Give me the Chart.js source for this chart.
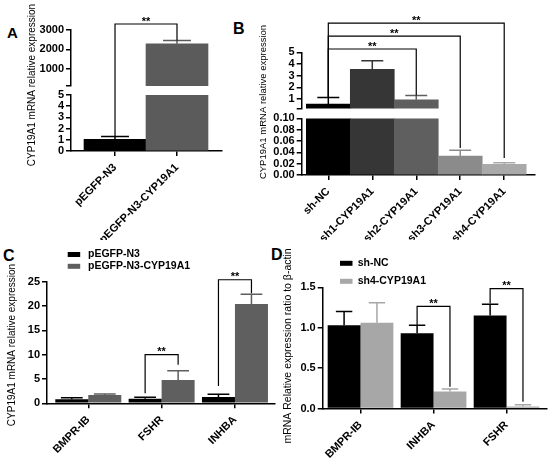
<!DOCTYPE html>
<html>
<head>
<meta charset="utf-8">
<script src="https://cdn.jsdelivr.net/npm/chart.js@4.4.0/dist/chart.umd.min.js"></script>
<style>
  body { margin: 0; background: #fff; width: 550px; height: 460px; position: relative; overflow: hidden; font-family: 'Liberation Sans', Arial, sans-serif; }
  canvas { position: absolute; }
  .lab { position: absolute; font-weight: bold; font-size: 16px; line-height: 18px; color: #000; }
</style>
</head>
<body>
<div class="lab" style="left:7px;top:24px;font-size:15px">A</div>
<div class="lab" style="left:233px;top:20px">B</div>
<div class="lab" style="left:3px;top:247px">C</div>
<div class="lab" style="left:271px;top:246px">D</div>

<canvas id="cC" width="285" height="220" style="left:0;top:240px"></canvas>
<canvas id="cD" width="275" height="220" style="left:275px;top:240px"></canvas>
<canvas id="cA" width="230" height="240" style="left:0;top:0"></canvas>
<canvas id="cB" width="320" height="240" style="left:230px;top:0"></canvas>

<script>
// ---- data ----
// A
const aLabels = ['pEGFP-N3', 'pEGFP-N3-CYP19A1'];
const aValues = [1.05, 2290];
const aErrors = [0.25, 170];
const aTicksLow = [0, 1, 2, 3, 4, 5];
const aTicksHigh = [100, 1000, 2000, 3000];

// B
const bLabels = ['sh-NC', 'sh1-CYP19A1', 'sh2-CYP19A1', 'sh3-CYP19A1', 'sh4-CYP19A1'];
const bValues = [0.57, 3.55, 0.94, 0.0336, 0.0188];
const bErrors = [0.56, 0.73, 0.37, 0.010, 0.003];
const bTicksLow = [0, 0.02, 0.04, 0.06, 0.08, 0.10];
const bTicksHigh = [0.2, 1, 2, 3, 4, 5];

// C
const cLabels = ['BMPR-IB', 'FSHR', 'INHBA'];
const cN3 = [0.82, 0.95, 1.3];
const cN3Err = [0.3, 0.3, 0.55];
const cCyp = [1.7, 4.8, 20.4];
const cCypErr = [0.2, 1.9, 2.0];
const cTicks = [0, 5, 10, 15, 20, 25];

// D
const dLabels = ['BMPR-IB', 'INHBA', 'FSHR'];
const dNC = [1.03, 0.93, 1.15];
const dNCErr = [0.17, 0.10, 0.14];
const dSh4 = [1.06, 0.21, 0.025];
const dSh4Err = [0.25, 0.03, 0.02];
const dTicks = [0, 0.5, 1.0, 1.5];

// ---- look ----
const FONT = "'Liberation Sans', Arial, sans-serif";
const aColors = ['#000000', '#5b5b5b'];
const bColors = ['#000000', '#363636', '#5f5f5f', '#8b8b8b', '#a9a9a9'];
const cColors = ['#000000', '#5f5f5f'];
const dColors = ['#000000', '#a7a7a7'];

Chart.defaults.animation = false;
Chart.defaults.font.family = FONT;

function yPix(chart, v) {
  const hi = chart.scales.yHigh;
  if (hi && v >= hi.min) return hi.getPixelForValue(v);
  return (chart.scales.yLow || chart.scales.y).getPixelForValue(v);
}

const errorBars = {
  id: 'errorBars',
  afterDatasetsDraw(chart) {
    const ctx = chart.ctx;
    chart.data.datasets.forEach((ds, di) => {
      if (!ds.errors) return;
      const meta = chart.getDatasetMeta(di);
      meta.data.forEach((bar, i) => {
        const v = ds.values[i], e = ds.errors[i];
        const col = Array.isArray(ds.backgroundColor) ? ds.backgroundColor[i] : ds.backgroundColor;
        const y0 = yPix(chart, v), y1 = yPix(chart, v + e);
        const half = bar.width * ds.capRatio / 2;
        ctx.save();
        ctx.strokeStyle = col;
        ctx.lineWidth = 1.5;
        ctx.beginPath();
        ctx.moveTo(bar.x, y0); ctx.lineTo(bar.x, y1);
        ctx.moveTo(bar.x - half, y1); ctx.lineTo(bar.x + half, y1);
        ctx.stroke();
        ctx.restore();
      });
    });
  }
};

function bracketPlugin(items) {
  return {
    id: 'brackets',
    afterDatasetsDraw(chart) {
      const ctx = chart.ctx;
      items.forEach(b => {
        const pa = chart.getDatasetMeta(b.a[0]).data[b.a[1]];
        const pb = chart.getDatasetMeta(b.b[0]).data[b.b[1]];
        const yl = yPix(chart, b.level);
        ctx.save();
        ctx.strokeStyle = '#000';
        ctx.lineWidth = 1.2;
        ctx.beginPath();
        ctx.moveTo(pa.x, yPix(chart, b.endA));
        ctx.lineTo(pa.x, yl);
        ctx.lineTo(pb.x, yl);
        ctx.lineTo(pb.x, yPix(chart, b.endB));
        ctx.stroke();
        ctx.fillStyle = '#000';
        ctx.font = 'bold 11px ' + FONT;
        ctx.textAlign = 'center';
        ctx.textBaseline = 'bottom';
        ctx.fillText('**', (pa.x + pb.x) / 2, yl + 3);
        ctx.restore();
      });
    }
  };
}

function sideTitle(text, x, y, size) {
  return {
    id: 'sideTitle',
    afterDraw(chart) {
      const ctx = chart.ctx;
      ctx.save();
      ctx.translate(x, y);
      ctx.rotate(-Math.PI / 2);
      ctx.fillStyle = '#000';
      ctx.font = size + 'px ' + FONT;
      ctx.textAlign = 'center';
      ctx.textBaseline = 'middle';
      ctx.fillText(text, 0, 0);
      ctx.restore();
    }
  };
}

function boxLegend(x, y, dy, textX) {
  return {
    id: 'boxLegend',
    afterDraw(chart) {
      const ctx = chart.ctx;
      ctx.save();
      chart.data.datasets.forEach((ds, i) => {
        const yy = y + i * dy;
        ctx.fillStyle = ds.backgroundColor;
        ctx.fillRect(x, yy - 2.5, 12.5, 5);
        ctx.fillStyle = '#000';
        ctx.font = 'bold 10.5px ' + FONT;
        ctx.textBaseline = 'middle';
        ctx.fillText(ds.label, textX, yy);
      });
      ctx.restore();
    }
  };
}

const axisLine = { color: '#000', width: 1.5 };
const tickMarks = { drawOnChartArea: false, drawTicks: true, tickLength: 5, color: '#000', lineWidth: 1.5, offset: false };
const tickFont = { family: FONT, size: 11, weight: 'bold' };

function yScale(o) {
  return {
    type: 'linear', position: 'left',
    min: o.min, max: o.max,
    stack: o.stack, stackWeight: o.weight || 1,
    border: axisLine, grid: tickMarks,
    ticks: { color: '#000', font: tickFont, padding: 2, autoSkip: false, callback: o.fmt },
    afterBuildTicks: s => { s.ticks = o.ticks.map(v => ({ value: v })); },
    afterFit: s => { s.width = o.width; }
  };
}

function gapScale(stack, weight, width) {
  return {
    type: 'linear', position: 'left', stack: stack, stackWeight: weight,
    border: { display: false }, grid: { display: false }, ticks: { display: false },
    afterFit: s => { s.width = width; }
  };
}

function xScale(labels, min, max, height) {
  return {
    type: 'linear', min: min, max: max, offset: false,
    border: axisLine, grid: tickMarks,
    ticks: {
      color: '#000', font: tickFont, padding: 5, autoSkip: false,
      maxRotation: 45, minRotation: 45,
      callback: v => labels[Math.round(v) - 1]
    },
    afterBuildTicks: s => { s.ticks = labels.map((_, i) => ({ value: i + 1 })); },
    afterFit: s => { s.height = height; }
  };
}

const points = arr => arr.map((v, i) => ({ x: i + 1, y: v }));

function baseOptions(padding, scales) {
  return {
    responsive: false,
    animation: false,
    layout: { padding: padding },
    plugins: { legend: { display: false }, tooltip: { enabled: false } },
    scales: scales
  };
}

// ---- A : broken axis ----
new Chart(document.getElementById('cA'), {
  type: 'bar',
  data: {
    datasets: [
      { yAxisID: 'yHigh', grouped: false, barPercentage: 1, categoryPercentage: 1,
        data: points(aValues.map(v => v >= aTicksHigh[0] ? v : null)),
        backgroundColor: aColors },
      { yAxisID: 'yLow', grouped: false, barPercentage: 1, categoryPercentage: 1,
        data: points(aValues.map(v => Math.min(v, aTicksLow[aTicksLow.length - 1]))),
        backgroundColor: aColors, values: aValues, errors: aErrors, capRatio: 0.45 }
    ]
  },
  options: baseOptions({ left: 35, right: 8, top: 30, bottom: 0 }, {
    x: xScale(aLabels, 0.29, 2.726, 89),
    yLow: yScale({ min: 0, max: 5, ticks: aTicksLow, stack: 'a', weight: 56, width: 36, fmt: v => String(v) }),
    yGap: gapScale('a', 9, 36),
    yHigh: yScale({ min: 100, max: 3000, ticks: aTicksHigh, stack: 'a', weight: 56, width: 36,
      fmt: v => v === aTicksHigh[0] ? '' : String(v) })
  }),
  plugins: [errorBars,
    bracketPlugin([{ a: [1, 0], b: [1, 1], level: 3311, endA: 1.3, endB: 2460 }]),
    sideTitle('CYP19A1 mRNA relative expression', 32, 85, 10)]
});

// ---- B : broken axis ----
new Chart(document.getElementById('cB'), {
  type: 'bar',
  data: {
    datasets: [
      { yAxisID: 'yHigh', grouped: false, barPercentage: 1, categoryPercentage: 1,
        data: points(bValues.map(v => v >= bTicksHigh[0] ? v : null)),
        backgroundColor: bColors },
      { yAxisID: 'yLow', grouped: false, barPercentage: 1, categoryPercentage: 1,
        data: points(bValues.map(v => Math.min(v, bTicksLow[bTicksLow.length - 1]))),
        backgroundColor: bColors, values: bValues, errors: bErrors, capRatio: 0.5 }
    ]
  },
  options: baseOptions({ left: 35.7, right: 15, top: 52.3, bottom: 0 }, {
    x: xScale(bLabels, 0.395, 5.70, 65),
    yLow: yScale({ min: 0, max: 0.10, ticks: bTicksLow, stack: 'b', weight: 56.7, width: 36, fmt: v => v.toFixed(2) }),
    yGap: gapScale('b', 10, 36),
    yHigh: yScale({ min: 0.2, max: 5, ticks: bTicksHigh, stack: 'b', weight: 56.3, width: 36,
      fmt: v => v === bTicksHigh[0] ? '' : String(v) })
  }),
  plugins: [errorBars,
    bracketPlugin([
      { a: [1, 0], b: [1, 2], level: 5.28, endA: 1.13, endB: 1.30 },
      { a: [1, 0], b: [1, 3], level: 6.39, endA: 1.13, endB: 0.0476 },
      { a: [1, 0], b: [1, 4], level: 7.5, endA: 1.13, endB: 0.030 }
    ]),
    sideTitle('CYP19A1 mRNA relative expression', 33, 102, 9.5)]
});

// ---- C : grouped ----
new Chart(document.getElementById('cC'), {
  type: 'bar',
  data: {
    datasets: [
      { label: 'pEGFP-N3', data: points(cN3), backgroundColor: cColors[0],
        values: cN3, errors: cN3Err, capRatio: 0.66, barPercentage: 1, categoryPercentage: 0.9 },
      { label: 'pEGFP-N3-CYP19A1', data: points(cCyp), backgroundColor: cColors[1],
        values: cCyp, errors: cCypErr, capRatio: 0.66, barPercentage: 1, categoryPercentage: 0.9 }
    ]
  },
  options: baseOptions({ left: 17, right: 10, top: 41.7, bottom: 0 }, {
    x: xScale(cLabels, 0.437, 3.546, 56.7),
    y: yScale({ min: 0, max: 25, ticks: cTicks, width: 30, fmt: v => String(v) })
  }),
  plugins: [errorBars,
    bracketPlugin([
      { a: [0, 1], b: [1, 1], level: 10, endA: 2.06, endB: 7.9 },
      { a: [0, 2], b: [1, 2], level: 25.4, endA: 3.56, endB: 22.6 }
    ]),
    sideTitle('CYP19A1 mRNA relative expression', 12, 105, 10),
    boxLegend(67.7, 14.5, 11.8, 88)]
});

// ---- D : grouped ----
new Chart(document.getElementById('cD'), {
  type: 'bar',
  data: {
    datasets: [
      { label: 'sh-NC', data: points(dNC), backgroundColor: dColors[0],
        values: dNC, errors: dNCErr, capRatio: 0.5, barPercentage: 1, categoryPercentage: 0.9 },
      { label: 'sh4-CYP19A1', data: points(dSh4), backgroundColor: dColors[1],
        values: dSh4, errors: dSh4Err, capRatio: 0.5, barPercentage: 1, categoryPercentage: 0.9 }
    ]
  },
  options: baseOptions({ left: 17.7, right: 3.3, top: 47.3, bottom: 0 }, {
    x: xScale(dLabels, 0.482, 3.55, 51.5),
    y: yScale({ min: 0, max: 1.5, ticks: dTicks, width: 30, fmt: v => v.toFixed(1) })
  }),
  plugins: [errorBars,
    bracketPlugin([
      { a: [0, 1], b: [1, 1], level: 1.265, endA: 1.03, endB: 0.27 },
      { a: [0, 2], b: [1, 2], level: 1.484, endA: 1.30, endB: 0.084 }
    ]),
    sideTitle('mRNA Relative expression ratio to \u03b2-actin', 13.3, 106, 10.5),
    boxLegend(65, 23.3, 18, 82.7)]
});
</script>
</body>
</html>
